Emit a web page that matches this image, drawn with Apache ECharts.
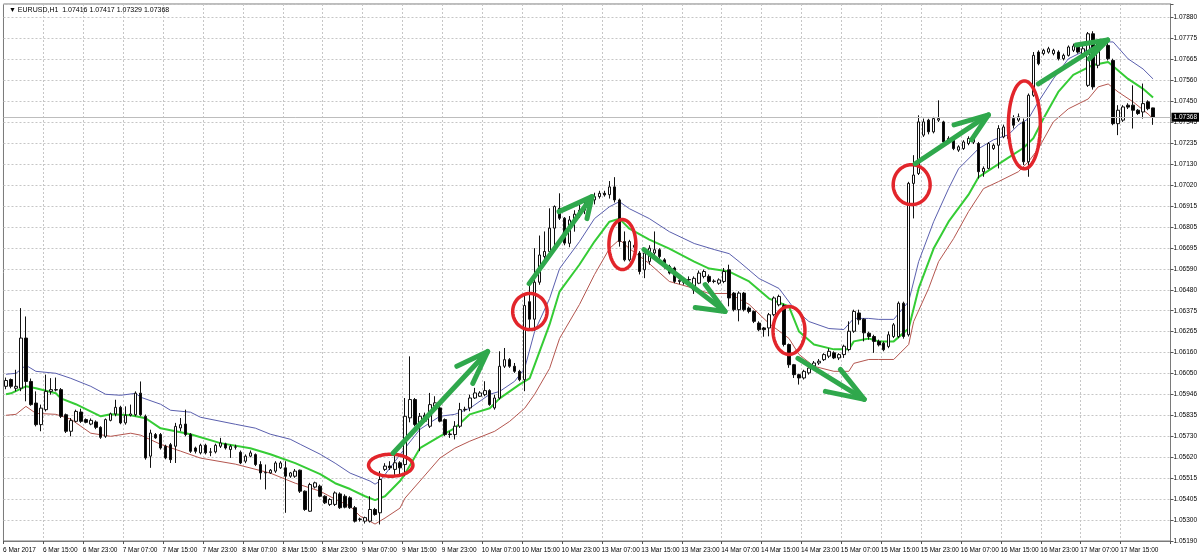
<!DOCTYPE html>
<html><head><meta charset="utf-8">
<script src="https://cdn.jsdelivr.net/npm/echarts@6/dist/echarts.min.js"></script>
<style>html,body{margin:0;padding:0;background:#fff}#c{width:1200px;height:559px}</style>
</head><body><div id="c"></div>
<script>
// ---------------- data ----------------
const symbol = 'EURUSD,H1';
// [open, high, low, close] — week 1: 6 Mar 07:00 .. 10 Mar 23:00
const week1Candles = [
[1.05985,1.0603,1.0597,1.06015],[1.0602,1.06025,1.05975,1.05985],[1.05975,1.0607,1.05959,1.05985],[1.05976,1.06387,1.0596,1.06233],
[1.06233,1.06344,1.05908,1.0601],[1.0601,1.06025,1.05885,1.05891],[1.05899,1.05959,1.05779,1.05788],[1.05788,1.05891,1.05754,1.05873],
[1.05865,1.06045,1.05856,1.05959],[1.05959,1.06027,1.05942,1.05968],[1.05968,1.0603,1.05959,1.05966],[1.05968,1.05976,1.05822,1.05831],
[1.05839,1.05845,1.05745,1.05754],[1.05754,1.05822,1.05728,1.05809],[1.05805,1.05865,1.058,1.05856],[1.05853,1.0587,1.05797,1.05805],
[1.05814,1.0582,1.05795,1.058],[1.05791,1.0582,1.05785,1.0581],[1.05802,1.0581,1.05765,1.05774],[1.05774,1.0578,1.05715,1.05723],
[1.05728,1.0582,1.0572,1.05814],[1.0581,1.0585,1.05805,1.05843],[1.05843,1.05916,1.05831,1.05877],[1.05877,1.05885,1.0579,1.05797],
[1.05797,1.05882,1.05788,1.05836],[1.05836,1.05891,1.0583,1.05843],[1.05839,1.05959,1.05831,1.0595],[1.0595,1.0601,1.05831,1.05839],
[1.05831,1.0584,1.05608,1.05617],[1.05626,1.05762,1.05566,1.05745],[1.05737,1.05745,1.05715,1.0572],[1.05737,1.05745,1.0566,1.05668],
[1.05677,1.05685,1.0561,1.05617],[1.05685,1.05694,1.05591,1.05608],[1.05677,1.05797,1.05591,1.05779],[1.05771,1.05822,1.05754,1.05788],
[1.05791,1.05865,1.05728,1.05737],[1.05737,1.05745,1.05643,1.05651],[1.05668,1.05675,1.0564,1.05651],[1.05643,1.0569,1.05635,1.05682],
[1.05682,1.0569,1.05635,1.05643],[1.05646,1.05668,1.05626,1.05648],[1.05648,1.0569,1.0564,1.05682],[1.05677,1.0572,1.05668,1.05694],
[1.05689,1.05695,1.0566,1.05668],[1.0566,1.05685,1.05617,1.05677],[1.05672,1.05685,1.0566,1.05674],[1.05646,1.05655,1.05585,1.05591],
[1.056,1.05635,1.0559,1.05626],[1.05626,1.05655,1.0562,1.05643],[1.05634,1.0564,1.05575,1.05583],[1.05583,1.056,1.05506,1.0554],
[1.0554,1.05583,1.05455,1.05542],[1.0554,1.0556,1.05535,1.05554],[1.05549,1.056,1.0554,1.05591],[1.05566,1.056,1.0556,1.05591],
[1.05566,1.056,1.05335,1.05523],[1.05523,1.05545,1.05515,1.0554],[1.05523,1.0556,1.05515,1.05549],[1.05554,1.05557,1.05437,1.05446],
[1.05446,1.0545,1.05345,1.05352],[1.05343,1.05489,1.0534,1.0548],[1.05467,1.05495,1.0546,1.05489],[1.05472,1.0548,1.05415,1.0542],
[1.0542,1.05425,1.0538,1.05386],[1.05378,1.0541,1.0537,1.05403],[1.05378,1.05445,1.0537,1.05437],[1.05432,1.0544,1.05355,1.05361],
[1.0542,1.0543,1.05358,1.05364],[1.05412,1.0542,1.05355,1.05361],[1.05361,1.0537,1.05285,1.05292],[1.05301,1.0531,1.0529,1.05303],
[1.05292,1.05315,1.0528,1.0531],[1.05292,1.0542,1.05285,1.05352],[1.05352,1.0536,1.0532,1.05326],[1.05335,1.05549,1.05275,1.05506],
[1.05558,1.0559,1.0555,1.05575],[1.05575,1.056,1.05555,1.05566],[1.05558,1.0566,1.0553,1.05592],[1.05592,1.056,1.0553,1.05566],
[1.05583,1.05925,1.05523,1.05831],[1.05823,1.06139,1.058,1.05917],[1.05917,1.05925,1.0578,1.05789],[1.05789,1.05848,1.05652,1.05831],
[1.05836,1.0585,1.058,1.05806],[1.0578,1.05951,1.05771,1.05891],[1.05883,1.05934,1.05874,1.059],[1.05874,1.05885,1.058,1.05806],
[1.05814,1.0582,1.0573,1.05737],[1.05737,1.05754,1.0572,1.0574],[1.05737,1.05806,1.05712,1.0578],[1.0578,1.059,1.05771,1.05865],
[1.05865,1.0588,1.05855,1.05867],[1.05874,1.05942,1.05857,1.05925],[1.05925,1.05977,1.0592,1.05951],[1.05934,1.0596,1.0593,1.05951],
[1.05942,1.06011,1.05934,1.05963],[1.05963,1.0597,1.05885,1.05891],[1.05874,1.05942,1.05865,1.05925],[1.05925,1.06165,1.05917,1.06088],
[1.06088,1.06182,1.06079,1.06122],[1.06122,1.0613,1.0608,1.06088],[1.06088,1.06105,1.06054,1.06062],[1.06062,1.0607,1.06011,1.06019],
[1.06019,1.0646,1.0596,1.064],[1.0642,1.0652,1.0628,1.0633],[1.0633,1.06695,1.0627,1.0652],[1.0652,1.0676,1.06507,1.0666],
[1.06652,1.06781,1.06627,1.06678],[1.06678,1.069,1.0667,1.06798],[1.06798,1.06915,1.0671,1.06909],[1.069,1.06977,1.0684,1.06849],
[1.06849,1.06855,1.0671,1.06721]
];
// week 2: 13 Mar 00:00 .. 17 Mar 21:00
const week2Candles = [
[1.0672,1.0686,1.067,1.0684],[1.0684,1.0689,1.0678,1.0687],[1.0687,1.0692,1.0685,1.0689],[1.0689,1.0694,1.0687,1.06915],
[1.0691,1.0693,1.0686,1.069],[1.06943,1.0698,1.0692,1.0696],[1.0696,1.0699,1.0695,1.06977],[1.06977,1.0699,1.0696,1.06969],
[1.0697,1.0704,1.0695,1.0701],[1.0701,1.0706,1.0693,1.06943],[1.06943,1.0695,1.06703,1.06729],[1.06729,1.06781,1.06627,1.06635],
[1.06635,1.06738,1.06627,1.06729],[1.067,1.0674,1.0665,1.0671],[1.0667,1.0668,1.0656,1.06575],[1.06584,1.06687,1.06541,1.0667],
[1.06627,1.0671,1.0661,1.06695],[1.0667,1.06781,1.06644,1.06687],[1.06687,1.06695,1.0664,1.06652],[1.06635,1.06644,1.0659,1.06601],
[1.06601,1.0661,1.0656,1.06567],[1.06593,1.066,1.06515,1.06524],[1.06524,1.0654,1.0651,1.0653],[1.0653,1.0654,1.06507,1.0652],
[1.06532,1.0655,1.06515,1.06534],[1.0648,1.0655,1.0646,1.0654],[1.06515,1.0658,1.0651,1.06567],[1.0655,1.06585,1.0654,1.06575],
[1.0655,1.0656,1.06515,1.06524],[1.06524,1.06535,1.06515,1.06526],[1.06515,1.0654,1.06507,1.06532],[1.06524,1.06593,1.06515,1.06575],
[1.06584,1.0661,1.06396,1.06439],[1.06464,1.0647,1.0637,1.06379],[1.06379,1.06473,1.06319,1.06464],[1.06464,1.0647,1.0637,1.06379],
[1.06387,1.06395,1.0636,1.0637],[1.0637,1.06375,1.0631,1.06319],[1.0631,1.06319,1.06268,1.06276],[1.06285,1.0629,1.0624,1.06276],
[1.06285,1.06362,1.06242,1.06353],[1.06353,1.06447,1.06345,1.06439],[1.06404,1.06456,1.06396,1.06447],[1.064,1.0641,1.0619,1.062],
[1.062,1.06205,1.0608,1.06096],[1.06096,1.061,1.06028,1.06045],[1.06045,1.0605,1.05994,1.06028],[1.06028,1.0607,1.0602,1.06062],
[1.06054,1.06085,1.06045,1.06079],[1.0609,1.06115,1.0608,1.06105],[1.06105,1.06125,1.06095,1.06114],[1.06122,1.06155,1.06115,1.06148],
[1.0614,1.0618,1.0613,1.06165],[1.06157,1.06165,1.06125,1.06131],[1.06131,1.06155,1.0612,1.06148],[1.06148,1.06199,1.06131,1.06191],
[1.06174,1.06319,1.06165,1.06268],[1.06268,1.06379,1.0626,1.0637],[1.06362,1.06379,1.06302,1.06327],[1.0633,1.06335,1.06216,1.0626],
[1.06258,1.06265,1.06225,1.06241],[1.06241,1.0625,1.06157,1.06216],[1.06216,1.06225,1.0619,1.06198],[1.06207,1.06215,1.06165,1.06173],
[1.0619,1.06267,1.06181,1.0625],[1.06241,1.0631,1.06233,1.06301],[1.06241,1.06421,1.06233,1.06412],[1.06412,1.0642,1.0623,1.06241],
[1.0625,1.07036,1.06241,1.07028],[1.07028,1.07173,1.06848,1.07071],[1.07079,1.07378,1.07071,1.07344],[1.07276,1.07361,1.07267,1.07344],
[1.07353,1.0736,1.0728,1.07293],[1.07293,1.0737,1.07285,1.07361],[1.07353,1.07455,1.07344,1.07361],[1.07344,1.0735,1.0723,1.07241],
[1.07241,1.0727,1.0723,1.07259],[1.0725,1.0726,1.07199,1.07207],[1.07199,1.07224,1.0719,1.07216],[1.07207,1.0725,1.072,1.07241],
[1.07233,1.0727,1.07224,1.07259],[1.0724,1.0728,1.0723,1.07267],[1.07233,1.07241,1.07053,1.07088],[1.07088,1.07115,1.07062,1.07105],
[1.07105,1.0724,1.071,1.07233],[1.07207,1.07233,1.072,1.07224],[1.07224,1.07327,1.07105,1.0731],[1.07267,1.0733,1.0726,1.07318],
[1.07259,1.07353,1.0725,1.07344],[1.07361,1.07378,1.0731,1.07327],[1.07353,1.07387,1.07344,1.0737],[1.07344,1.07361,1.07122,1.07139],
[1.07139,1.0749,1.07062,1.07481],[1.07481,1.07703,1.07473,1.07686],[1.07703,1.07712,1.07635,1.07643],[1.07695,1.0772,1.07686,1.07712],
[1.07703,1.0773,1.07695,1.0772],[1.07695,1.0772,1.07686,1.07712],[1.07703,1.07712,1.0766,1.07669],[1.07669,1.07695,1.0766,1.07686],
[1.07686,1.07737,1.0768,1.07729],[1.07712,1.07746,1.07703,1.07734],[1.07729,1.07737,1.07695,1.07703],[1.07695,1.07735,1.07686,1.0772],
[1.07532,1.07806,1.07524,1.07797],[1.07797,1.0781,1.0751,1.07524],[1.07635,1.0776,1.0762,1.07754],[1.07746,1.0777,1.07737,1.07763],
[1.07737,1.07771,1.0766,1.07669],[1.0766,1.07669,1.07327,1.07335],[1.07335,1.0743,1.07276,1.07404],[1.07353,1.0743,1.07344,1.07421],
[1.0743,1.0744,1.0741,1.0742],[1.0743,1.07532,1.0731,1.07404],[1.07404,1.0741,1.0738,1.07387],[1.07395,1.07541,1.07361,1.07438],
[1.07447,1.07455,1.07404,1.07412],[1.07416,1.07417,1.07329,1.07368]
];
// indicator envelope, read at bar indices: [barIndex, price]
const upperBand = [[0,1.06047],[2,1.06052],[4,1.06093],[6,1.06062],[10,1.06052],[13,1.06026],[17,1.05985],[20,1.05944],[23,1.05939],[26,1.05949],[27,1.05929],[31,1.05893],[33,1.05862],[37,1.05852],[39,1.05826],[46,1.0579],[50,1.0577],[53,1.05739],[57,1.05713],[59,1.05687],[63,1.05636],[66,1.0559],[69,1.05539],[73,1.05498],[74,1.05482],[75,1.05498],[80,1.05667],[83,1.05764],[87,1.05831],[90,1.05841],[93,1.05872],[97,1.05944],[99,1.05959],[102,1.06011],[104,1.06077],[106,1.06267],[109,1.06436],[111,1.0659],[115,1.06729],[118,1.06847],[121,1.06908],[123,1.06934],[125,1.06898],[129,1.06847],[133,1.0678],[138,1.06719],[142,1.06688],[145,1.06667],[147,1.06626],[151,1.06539],[155,1.06488],[158,1.06385],[161,1.06318],[165,1.06282],[168,1.06277],[170,1.06334],[173,1.06334],[175,1.06329],[178,1.06329],[181,1.06421],[183,1.06626],[186,1.06831],[189,1.07001],[191,1.07103],[195,1.07206],[198,1.07252],[201,1.07278],[203,1.07329],[205,1.0736],[207,1.07447],[210,1.07565],[213,1.07668],[217,1.07719],[220,1.07755],[222,1.07755],[225,1.07668],[228,1.07616],[230,1.07565]];
const middleBand = [[0,1.05944],[1,1.05949],[4,1.05985],[6,1.05975],[10,1.05949],[11,1.05923],[14,1.05893],[19,1.05831],[21,1.05841],[25,1.05836],[28,1.05821],[31,1.05769],[37,1.05739],[43,1.05693],[49,1.05667],[53,1.05636],[58,1.0559],[63,1.05534],[66,1.05487],[69,1.05457],[72,1.0542],[74,1.054],[76,1.0542],[79,1.05498],[80,1.05534],[83,1.05667],[87,1.05728],[90,1.0577],[93,1.05841],[97,1.05872],[99,1.05923],[103,1.05995],[105,1.06026],[109,1.06303],[111,1.06472],[115,1.06611],[118,1.06729],[121,1.06831],[123,1.06847],[125,1.06795],[129,1.06739],[133,1.06693],[138,1.06626],[141,1.0659],[145,1.06575],[149,1.06524],[153,1.06436],[157,1.06395],[159,1.06267],[162,1.062],[166,1.06175],[169,1.06175],[170,1.06216],[173,1.06231],[175,1.06216],[178,1.06216],[181,1.06282],[183,1.06488],[186,1.06693],[189,1.06831],[193,1.0697],[195,1.0706],[198,1.0711],[201,1.0716],[204,1.0721],[206,1.0726],[208,1.0736],[211,1.07498],[214,1.07586],[218,1.07637],[221,1.07652],[225,1.07565],[228,1.07514],[230,1.0747]];
const lowerBand = [[0,1.05836],[2,1.05841],[4,1.05882],[6,1.05846],[10,1.05841],[13,1.05816],[17,1.05744],[21,1.05728],[25,1.05744],[27,1.05734],[31,1.05687],[35,1.05652],[39,1.05616],[46,1.05585],[53,1.05539],[58,1.05487],[63,1.05446],[66,1.05405],[69,1.05369],[71,1.05318],[74,1.05277],[76,1.05308],[79,1.05359],[80,1.0541],[83,1.05498],[87,1.05616],[90,1.05667],[93,1.05703],[98,1.05754],[101,1.05805],[104,1.05872],[106,1.05944],[109,1.06077],[111,1.06231],[115,1.06406],[118,1.06559],[121,1.06693],[123,1.06739],[125,1.06693],[129,1.06616],[133,1.06524],[138,1.06488],[141,1.06462],[145,1.06462],[149,1.06406],[153,1.06308],[157,1.06231],[159,1.06149],[162,1.06088],[166,1.06062],[169,1.06062],[170,1.06103],[173,1.06123],[175,1.06123],[178,1.06123],[181,1.062],[182,1.06318],[185,1.06488],[187,1.06626],[190,1.06744],[193,1.06883],[196,1.07001],[199,1.07037],[203,1.07088],[205,1.07139],[207,1.07206],[210,1.07344],[213,1.07411],[217,1.07462],[219,1.07524],[221,1.07539],[223,1.07498],[226,1.07447],[229,1.07385],[230,1.0736]];
const bidPrice = 1.07368;
const yTickLabels = ['1.05190','1.05300','1.05405','1.05515','1.05620','1.05730','1.05835','1.05946','1.06050','1.06160','1.06265','1.06375','1.06480','1.06590','1.06695','1.06805','1.06915','1.07020','1.07130','1.07235','1.07345','1.07450','1.07560','1.07665','1.07775','1.07880'];
const xTickLabels = ['6 Mar 2017','6 Mar 15:00','6 Mar 23:00','7 Mar 07:00','7 Mar 15:00','7 Mar 23:00','8 Mar 07:00','8 Mar 15:00','8 Mar 23:00','9 Mar 07:00','9 Mar 15:00','9 Mar 23:00','10 Mar 07:00','10 Mar 15:00','10 Mar 23:00','13 Mar 07:00','13 Mar 15:00','13 Mar 23:00','14 Mar 07:00','14 Mar 15:00','14 Mar 23:00','15 Mar 07:00','15 Mar 15:00','15 Mar 23:00','16 Mar 07:00','16 Mar 15:00','16 Mar 23:00','17 Mar 07:00','17 Mar 15:00'];
// annotations in data space: ellipse [barFrom, barTo, priceTop, priceBottom]
const ellipses = [[72.7,81.6,1.05636,1.05523],[101.6,108.5,1.06462,1.06277],[120.9,126.3,1.06842,1.06585],[153.8,160.2,1.06395,1.06149],[177.9,185.3,1.07124,1.06919],[201,207.4,1.07555,1.07103]];
// arrow [barStart, priceStart, barTip, priceTip, barArmA, priceArmA, barArmB, priceArmB]
const arrows = [[77.6,1.05641,96.6,1.06164,90.4,1.06088,93.6,1.06],[104.9,1.06513,117.5,1.0696,110.9,1.06883,116.5,1.06847],[127.9,1.06688,144.2,1.0637,138.2,1.0639,140.2,1.06508],[158.8,1.06129,172.1,1.05918,164.3,1.05959,167.3,1.06072],[182.3,1.07129,197,1.0738,190.1,1.07329,193.6,1.07252],[207,1.07539,220.9,1.07765,214.6,1.07739,217.2,1.07668]];

// ---------------- build ----------------
const candles = week1Candles.concat(week2Candles);
const categories = [];
for (let h = 7; h < 24; h++) categories.push('6 Mar ' + String(h).padStart(2,'0') + ':00');
for (let d = 7; d <= 10; d++) for (let h = 0; h < 24; h++) categories.push(d + ' Mar ' + String(h).padStart(2,'0') + ':00');
for (let d = 13; d <= 17; d++) for (let h = 0; h < 24; h++) categories.push(d + ' Mar ' + String(h).padStart(2,'0') + ':00');
categories.length = candles.length;
for (let k = 0; k < 3; k++) categories.push('');

const Y_BASE = 1.05190, PIP = 10000;
const yv = p => (p - Y_BASE) * PIP;
const Y_INT = 10.76;
const FONT = 'Liberation Sans, Arial, sans-serif';
const last = candles[candles.length - 1];

const chart = echarts.init(document.getElementById('c'), null, {renderer: 'canvas'});
chart.setOption({
  animation: false,
  backgroundColor: '#ffffff',
  title: {
    text: '\u25BC ' + symbol + '  ' + last.map(v => v.toFixed(5)).join(' '),
    left: 4, top: 2,
    textStyle: {fontSize: 7, fontWeight: 'normal', color: '#000', fontFamily: FONT}
  },
  grid: {left: 1, right: 25, top: 4, bottom: 18, show: true, borderColor: '#7a7a7a', borderWidth: 1, backgroundColor: '#fff'},
  xAxis: {
    type: 'category', data: categories, boundaryGap: true,
    axisLine: {lineStyle: {color: '#7a7a7a'}},
    axisTick: {show: true, length: 3, interval: i => i % 8 === 0 && i < candles.length, lineStyle: {color: '#555'}},
    axisLabel: {
      interval: i => i % 8 === 0 && i < candles.length,
      formatter: (v, i) => xTickLabels[i / 8] || '',
      fontSize: 6.5, color: '#000', fontFamily: FONT, align: 'left', margin: 6, padding: [0,0,0,-3]
    },
    splitLine: {show: true, interval: i => i % 8 === 0 && i > 0 && i < candles.length, lineStyle: {color: '#c6c6c6', type: [2, 2], width: 1}}
  },
  yAxis: {
    type: 'value', position: 'right', min: 0, max: 276, interval: Y_INT, scale: false,
    axisLine: {show: true, lineStyle: {color: '#7a7a7a'}},
    axisTick: {show: true, length: 3, lineStyle: {color: '#555'}},
    axisLabel: {
      fontSize: 6.5, color: '#000', fontFamily: FONT, margin: 3,
      formatter: v => { const k = Math.round(v / Y_INT); return Math.abs(v / Y_INT - k) < 0.02 ? (yTickLabels[k] || '') : ''; }
    },
    splitLine: {show: true, lineStyle: {color: '#c6c6c6', type: [2, 2], width: 1}}
  },
  series: [
    {
      type: 'candlestick', barWidth: 3,
      data: candles.map(([o, h, l, c]) => [yv(o), yv(c), yv(l), yv(h)]),
      itemStyle: {color: '#ffffff', color0: '#000000', borderColor: '#111', borderColor0: '#111', borderWidth: 1},
      markLine: {
        silent: true, symbol: 'none',
        data: [{yAxis: yv(bidPrice)}],
        lineStyle: {color: '#bdbdbd', width: 1, type: 'solid'},
        label: {show: true, position: 'end', formatter: bidPrice.toFixed(5), backgroundColor: '#000', color: '#fff',
                fontSize: 6.5, fontFamily: FONT, padding: [1, 2, 1, 2], distance: 1}
      },
      z: 3
    },
    {type: 'line', data: upperBand.map(([i, p]) => [i, yv(p)]), symbol: 'none', lineStyle: {color: '#5a5fae', width: 1}, z: 2},
    {type: 'line', data: middleBand.map(([i, p]) => [i, yv(p)]), symbol: 'none', lineStyle: {color: '#35cc35', width: 2}, z: 2},
    {type: 'line', data: lowerBand.map(([i, p]) => [i, yv(p)]), symbol: 'none', lineStyle: {color: '#b4564f', width: 1}, z: 2},
    {
      type: 'custom', coordinateSystem: 'cartesian2d', data: [[0, 0]], z: 10, silent: true,
      renderItem: (params, api) => {
        const a = api.coord([0, 0]), b = api.coord([1, 0]);
        const px = i => a[0] + (b[0] - a[0]) * i;
        const py = p => api.coord([0, yv(p)])[1];
        const children = [];
        ellipses.forEach(([i0, i1, pt, pb]) => {
          const cx = (px(i0) + px(i1)) / 2, cy = (py(pt) + py(pb)) / 2;
          const rx = Math.abs(px(i1) - px(i0)) / 2, ry = Math.abs(py(pb) - py(pt)) / 2;
          const pts = [];
          for (let k = 0; k < 90; k++) { const t = k / 90 * Math.PI * 2; pts.push([cx + rx * Math.cos(t), cy + ry * Math.sin(t)]); }
          children.push({type: 'polygon', shape: {points: pts}, style: {fill: 'none', stroke: '#e2252b', lineWidth: 3.5}});
        });
        arrows.forEach(([i0, p0, i1, p1, ia, pa, ib, pb]) => {
          const st = {fill: 'none', stroke: '#2fa84c', lineWidth: 5, lineCap: 'round', lineJoin: 'round'};
          children.push({type: 'polyline', shape: {points: [[px(i0), py(p0)], [px(i1), py(p1)]]}, style: st});
          children.push({type: 'polyline', shape: {points: [[px(ia), py(pa)], [px(i1), py(p1)], [px(ib), py(pb)]]}, style: st});
        });
        return {type: 'group', children};
      }
    }
  ]
});
</script></body></html>
